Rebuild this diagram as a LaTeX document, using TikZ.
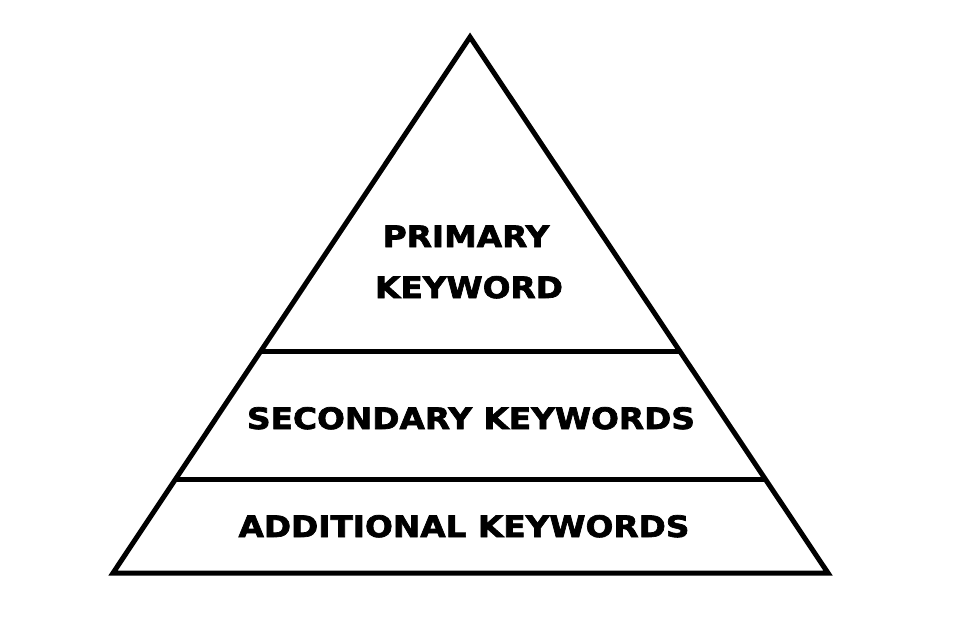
\documentclass[tikz,border=0pt]{standalone}
\usepackage{fontspec}
\newfontfamily\pyrfont[UprightFont={* Bold}, FakeStretch=1.11, FakeBold=2.4]{DejaVu Sans}
\usetikzlibrary{calc}
\usetikzlibrary{positioning}
\begin{document}
\begin{tikzpicture}[x=0.02cm, y=-0.02cm, edgeline/.style={line width=0.1cm, draw=black, line join=miter}]
					\tikzstyle{label}=[inner sep=0pt, anchor=base, font=\pyrfont\fontsize{16.8pt}{20pt}\selectfont]
					\useasboundingbox[fill=white] (0,0) rectangle (980,619);

					% Draw the pyramid
					\coordinate (apex) at (470,37);
					\coordinate (baseL) at (113,573);
					\coordinate (baseR) at (828,573);
					\draw[edgeline] (apex) -- (baseR) -- (baseL) -- cycle;

					% Draw the dividers
					\coordinate (cut1L) at ($(apex)!0.586!(baseL)$);
					\coordinate (cut1R) at ($(apex)!0.586!(baseR)$);
					\coordinate (cut2L) at ($(apex)!0.825!(baseL)$);
					\coordinate (cut2R) at ($(apex)!0.825!(baseR)$);
					\draw[edgeline] (cut1L) -- (cut1R);
					\draw[edgeline] (cut2L) -- (cut2R);

					% Draw the labels
					\node[label] (primary) at (466,247) {PRIMARY};
					\node[label] (keyword) at (469,298) {KEYWORD};
					\node[label] (secondary) at (471,429) {SECONDARY KEYWORDS};
					\node[label] (additional) at (464,537) {ADDITIONAL KEYWORDS};

				\end{tikzpicture}
\end{document}
